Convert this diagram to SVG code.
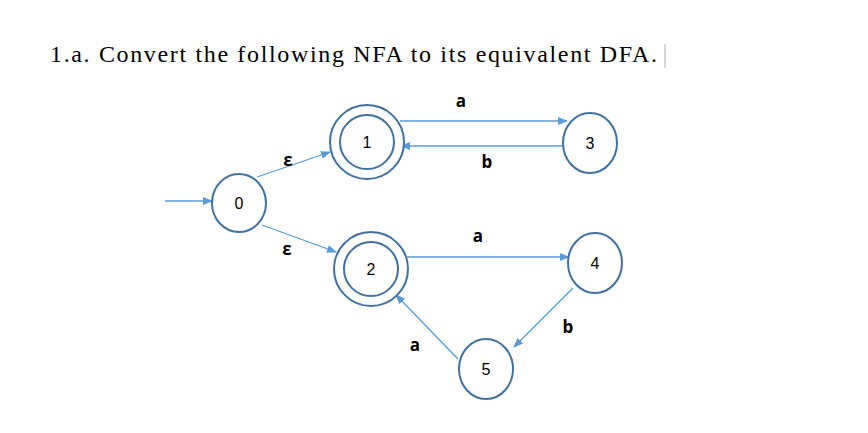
<svg xmlns="http://www.w3.org/2000/svg" width="868" height="433" viewBox="0 0 868 433">
<style>
.n{fill:#fff;stroke:#41719C;stroke-width:2}
.e{stroke:#5B9BD5;stroke-width:1.3;fill:none;marker-end:url(#ah)}
.t{font-family:"Liberation Sans",Arial,sans-serif;font-size:16px;fill:#000;text-anchor:middle}
.l{font-family:"Open Sans","Liberation Sans",sans-serif;font-size:17px;font-weight:bold;fill:#000;text-anchor:middle}
</style>
<defs><marker id="ah" markerWidth="10" markerHeight="8" refX="9" refY="4" orient="auto" markerUnits="userSpaceOnUse"><path d="M0,0 L10,4 L0,8 Z" fill="#5B9BD5"/></marker></defs>
<rect width="868" height="433" fill="#fff"/>
<text x="50" y="62" font-family="'Liberation Serif',serif" font-size="24" textLength="607">1.a. Convert the following NFA to its equivalent DFA.</text>
<line x1="665" y1="44" x2="665" y2="68" stroke="#aaa" stroke-width="1"/>
<g id="edges">
<line class="e" x1="165" y1="201" x2="212" y2="201"/>
<line class="e" x1="257" y1="177" x2="330" y2="152"/>
<line class="e" x1="400" y1="121" x2="567" y2="121"/>
<line class="e" x1="563" y1="146" x2="401" y2="146"/>
<line class="e" x1="262" y1="225" x2="336" y2="252"/>
<line class="e" x1="407" y1="257" x2="569" y2="257"/>
<line class="e" x1="573" y1="288" x2="514" y2="347"/>
<line class="e" x1="458" y1="359" x2="396" y2="295"/>
</g>
<g id="labels">
<text class="l" x="461" y="107">a</text>
<text class="l" x="487" y="168">b</text>
<text class="l" x="288" y="166">ε</text>
<text class="l" x="287" y="255">ε</text>
<text class="l" x="478" y="242">a</text>
<text class="l" x="568" y="333">b</text>
<text class="l" x="415" y="351">a</text>
</g>
<g id="n0"><ellipse class="n" cx="239" cy="203" rx="27" ry="29"/><text class="t" x="239" y="209">0</text></g>
<g id="n1"><circle class="n" cx="367" cy="142" r="37"/><circle class="n" cx="367" cy="142" r="27"/><text class="t" x="367" y="148">1</text></g>
<g id="n2"><circle class="n" cx="371" cy="269" r="37"/><circle class="n" cx="371" cy="269" r="27"/><text class="t" x="371" y="275">2</text></g>
<g id="n3"><ellipse class="n" cx="590" cy="143" rx="27" ry="30"/><text class="t" x="590" y="149">3</text></g>
<g id="n4"><ellipse class="n" cx="595" cy="263" rx="27" ry="30"/><text class="t" x="595" y="269">4</text></g>
<g id="n5"><ellipse class="n" cx="486" cy="369" rx="27" ry="30"/><text class="t" x="486" y="375">5</text></g>
</svg>
